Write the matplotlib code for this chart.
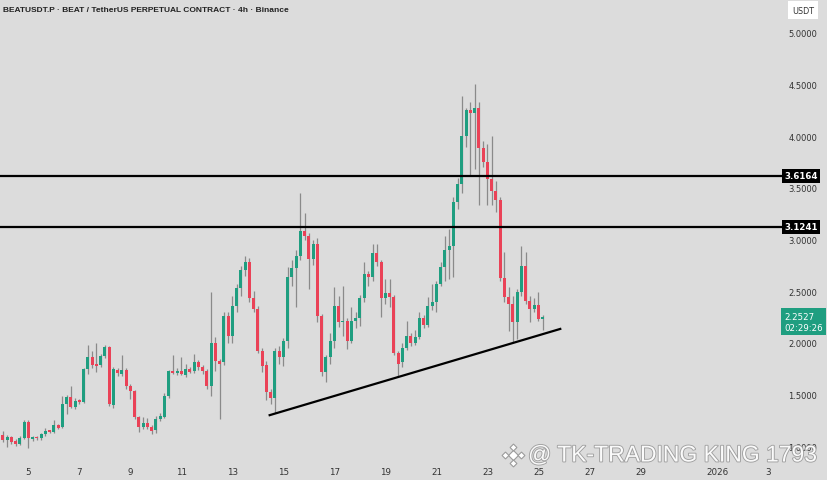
import numpy as np
import pandas as pd
import matplotlib
matplotlib.use("Agg")
import matplotlib.pyplot as plt
import matplotlib.dates as mdates
import matplotlib.transforms as mtransforms
import matplotlib.patheffects as pe

# BEAT/USDT perp, 4h candles
opens = [1.11, 1.06, 1.09, 1.05, 1.02, 1.08, 1.23, 1.07, 1.09, 1.08,
         1.12, 1.15, 1.14, 1.20, 1.19, 1.41, 1.48, 1.38, 1.44, 1.43,
         1.75, 1.86, 1.80, 1.79, 1.87, 1.96, 1.40, 1.74, 1.70, 1.74,
         1.58, 1.53, 1.28, 1.19, 1.22, 1.19, 1.16, 1.26, 1.28, 1.49,
         1.73, 1.71, 1.73, 1.69, 1.75, 1.73, 1.81, 1.77, 1.73, 1.58,
         2.00, 1.82, 1.81, 2.26, 2.07, 2.36, 2.53, 2.71, 2.78, 2.43,
         2.33, 1.92, 1.79, 1.52, 1.47, 1.92, 1.86, 2.02, 2.64, 2.72,
         2.84, 3.08, 3.03, 2.81, 2.96, 2.26, 1.72, 1.86, 2.02, 2.36,
         2.20, 2.21, 2.02, 2.21, 2.24, 2.43, 2.67, 2.64, 2.87, 2.78,
         2.43, 2.48, 2.44, 1.90, 1.81, 1.95, 2.07, 2.00, 2.06, 2.24,
         2.17, 2.36, 2.40, 2.57, 2.73, 2.90, 2.94, 3.36, 3.54, 4.00,
         4.25, 4.23, 4.27, 3.89, 3.75, 3.59, 3.47, 3.38, 2.63, 2.44,
         2.38, 2.20, 2.49, 2.74, 2.41, 2.33, 2.37, 2.23]
highs = [1.15, 1.11, 1.10, 1.07, 1.10, 1.25, 1.25, 1.10, 1.10, 1.13,
         1.18, 1.16, 1.25, 1.21, 1.49, 1.50, 1.58, 1.47, 1.46, 1.76,
         1.98, 1.92, 2.00, 1.89, 1.98, 1.97, 1.77, 1.76, 1.88, 1.76,
         1.60, 1.54, 1.29, 1.28, 1.27, 1.20, 1.29, 1.32, 1.51, 1.74,
         1.88, 1.76, 1.86, 1.80, 1.77, 1.89, 1.83, 1.79, 1.75, 2.49,
         2.06, 1.84, 2.30, 2.30, 2.45, 2.57, 2.74, 2.84, 2.82, 2.50,
         2.36, 1.95, 1.82, 1.55, 1.95, 1.97, 2.05, 2.73, 2.80, 2.90,
         3.45, 3.26, 3.06, 3.00, 3.02, 2.28, 1.88, 2.10, 2.54, 2.45,
         2.55, 2.24, 2.35, 2.30, 2.46, 2.78, 2.70, 2.96, 2.96, 2.80,
         2.62, 2.62, 2.46, 1.92, 2.00, 2.21, 2.10, 2.12, 2.30, 2.27,
         2.44, 2.57, 2.60, 2.78, 3.03, 3.10, 3.41, 3.60, 4.39, 4.27,
         4.33, 4.51, 4.33, 3.95, 3.93, 4.00, 3.57, 3.41, 2.88, 2.54,
         2.45, 2.52, 2.94, 2.88, 2.45, 2.43, 2.49, 2.27]
lows = [1.04, 0.99, 1.02, 1.00, 1.01, 1.07, 0.98, 1.05, 1.06, 1.06,
        1.10, 1.13, 1.13, 1.17, 1.18, 1.31, 1.37, 1.36, 1.41, 1.42,
        1.70, 1.76, 1.72, 1.77, 1.85, 1.39, 1.37, 1.68, 1.68, 1.55,
        1.46, 1.26, 1.14, 1.17, 1.17, 1.12, 1.13, 1.24, 1.27, 1.47,
        1.70, 1.69, 1.69, 1.67, 1.71, 1.71, 1.74, 1.70, 1.55, 1.49,
        1.73, 1.26, 1.79, 2.00, 2.00, 2.30, 2.45, 2.65, 2.40, 2.30,
        1.90, 1.72, 1.45, 1.41, 1.32, 1.80, 1.78, 1.95, 2.55, 2.35,
        2.80, 3.00, 2.52, 2.75, 2.20, 1.68, 1.62, 1.80, 1.95, 2.15,
        2.07, 1.94, 2.00, 2.14, 2.16, 2.40, 2.55, 2.60, 2.74, 2.25,
        2.38, 2.35, 1.88, 1.67, 1.77, 1.93, 1.97, 1.98, 2.04, 2.14,
        2.15, 2.32, 2.30, 2.55, 2.60, 2.62, 2.64, 3.30, 3.45, 3.90,
        3.62, 3.68, 3.33, 3.70, 3.33, 3.33, 3.27, 2.60, 2.40, 2.11,
        2.01, 2.04, 2.45, 2.38, 2.20, 2.30, 2.21, 2.12]
closes = [1.06, 1.09, 1.04, 1.02, 1.08, 1.23, 1.08, 1.09, 1.08, 1.12,
          1.15, 1.14, 1.20, 1.18, 1.41, 1.48, 1.38, 1.44, 1.43, 1.75,
          1.86, 1.79, 1.78, 1.87, 1.96, 1.41, 1.75, 1.71, 1.74, 1.58,
          1.53, 1.28, 1.19, 1.22, 1.19, 1.15, 1.26, 1.29, 1.49, 1.73,
          1.71, 1.73, 1.70, 1.75, 1.72, 1.81, 1.77, 1.73, 1.58, 2.00,
          1.82, 1.80, 2.26, 2.07, 2.36, 2.53, 2.71, 2.78, 2.43, 2.33,
          1.92, 1.78, 1.52, 1.47, 1.92, 1.86, 2.02, 2.64, 2.72, 2.84,
          3.08, 3.03, 2.81, 2.96, 2.26, 1.72, 1.86, 2.02, 2.36, 2.20,
          2.21, 2.02, 2.21, 2.24, 2.43, 2.67, 2.64, 2.87, 2.78, 2.43,
          2.48, 2.44, 1.90, 1.80, 1.95, 2.07, 2.00, 2.06, 2.24, 2.17,
          2.36, 2.40, 2.57, 2.73, 2.90, 2.94, 3.36, 3.54, 4.00, 4.25,
          4.23, 4.27, 3.89, 3.75, 3.59, 3.47, 3.38, 2.63, 2.44, 2.38,
          2.20, 2.49, 2.74, 2.41, 2.33, 2.37, 2.23, 2.2527]
times = pd.date_range("2025-12-04 00:00", periods=len(closes), freq="4h")

levels = [3.6164, 3.1241]
trend_times = pd.to_datetime(["2025-12-14 11:00", "2025-12-25 20:30"])
trend_prices = [1.30, 2.135]
last_price = 2.2527
countdown = "02:29:26"

price_ticks = [1.0, 1.5, 2.0, 2.5, 3.0, 3.5, 4.0, 4.5, 5.0]
date_ticks = pd.to_datetime(["2025-12-05", "2025-12-07", "2025-12-09", "2025-12-11",
                             "2025-12-13", "2025-12-15", "2025-12-17", "2025-12-19",
                             "2025-12-21", "2025-12-23", "2025-12-25", "2025-12-27",
                             "2025-12-29", "2026-01-01", "2026-01-03"])
date_labels = ["5", "7", "9", "11", "13", "15", "17", "19", "21", "23", "25",
               "27", "29", "2026", "3"]

BG = "#dcdcdc"
UP = "#1f9e80"
DOWN = "#ea4257"
WICK = "#8a8a8a"
TXT = "#333333"

fig = plt.figure(figsize=(8.28, 4.81), dpi=100, facecolor=BG)
ax = fig.add_axes([0, 23 / 481, 782 / 828, 458 / 481])
ax.set_facecolor(BG)

o = np.array(opens); h = np.array(highs); l = np.array(lows); c = np.array(closes)
up = c >= o
cols = np.where(up, UP, DOWN)
x = mdates.date2num(times)
ax.vlines(x, l, h, color=WICK, lw=0.9, zorder=2)
body_lo = np.minimum(o, c)
body_h = np.maximum(np.abs(c - o), 0.012)
ax.bar(x, body_h, bottom=body_lo, width=0.7 * 4 / 24, color=cols, lw=0, zorder=3)

for lv in levels:
    ax.axhline(lv, color="black", lw=1.6, zorder=4)
ax.plot(mdates.date2num(trend_times), trend_prices, color="black", lw=1.6, zorder=4)

t0 = mdates.date2num(times[0])
step = 4 / 24
ax.set_xlim(t0 - 0.7 * step, t0 + 183.3 * step)
ax.set_ylim(0.895, 5.329)

ax.set_xticks(mdates.date2num(date_ticks))
ax.set_xticklabels(date_labels)
ax.yaxis.tick_right()
ax.set_yticks(price_ticks)
ax.set_yticklabels([f"{p:.4f}" for p in price_ticks])
ax.tick_params(axis="x", length=0, pad=7, labelsize=6.3, labelcolor=TXT)
ax.tick_params(axis="y", length=0, pad=4.5, labelsize=6, labelcolor=TXT)
for s in ax.spines.values():
    s.set_visible(False)

# price tags on the right scale
tr = mtransforms.blended_transform_factory(ax.transAxes, ax.transData)
for lv in levels:
    ax.text(1.003, lv, f"{lv:.4f}", transform=tr, ha="left", va="center",
            fontsize=6.2, color="white", fontweight="bold", clip_on=False, zorder=10,
            bbox=dict(boxstyle="square,pad=0.3", fc="black", ec="none"))
ax.annotate(f"{last_price:.4f}\n{countdown}", xy=(1.003, last_price), xycoords=tr,
            xytext=(0, 3.5), textcoords="offset points", ha="left", va="top",
            fontsize=6.2, color="white", linespacing=1.25, annotation_clip=False, zorder=10,
            bbox=dict(boxstyle="square,pad=0.4", fc=UP, ec="none"))

fig.text(803 / 828, 1 - 11 / 481, "USDT", ha="center", va="center", fontsize=5.8,
         color=TXT, bbox=dict(boxstyle="square,pad=0.5", fc="white", ec="none"))

ax.text(0.004, 1 - 10 / 458, "BEATUSDT.P · BEAT / TetherUS PERPETUAL CONTRACT · 4h · Binance",
        transform=ax.transAxes, ha="left", va="center", fontsize=6.0, color="#222222",
        family=["Liberation Sans", "DejaVu Sans"], fontweight="bold")

# watermark
wm = fig.text(528 / 828, 1 - 456 / 481, "@ TK-TRADING KING 1793", ha="left", va="center",
              fontsize=16.5, color="white", alpha=0.95,
              family=["Liberation Sans", "DejaVu Sans"])
wm.set_path_effects([pe.withStroke(linewidth=1.3, foreground="#9c9c9c")])
lx, ly = 513 / 828, 1 - 456 / 481
dx, dy = 8 / 828, 8 / 481
fig.add_artist(plt.Line2D([lx], [ly], marker="D", ms=5, mfc="white", mec="#9c9c9c", mew=0.8,
                          transform=fig.transFigure))
for ox, oy in [(-dx, 0), (dx, 0), (0, dy), (0, -dy)]:
    fig.add_artist(plt.Line2D([lx + ox], [ly + oy], marker="D", ms=3.5, mfc="white",
                              mec="#9c9c9c", mew=0.8, transform=fig.transFigure))

fig.savefig("out.png", dpi=100, facecolor=BG)
